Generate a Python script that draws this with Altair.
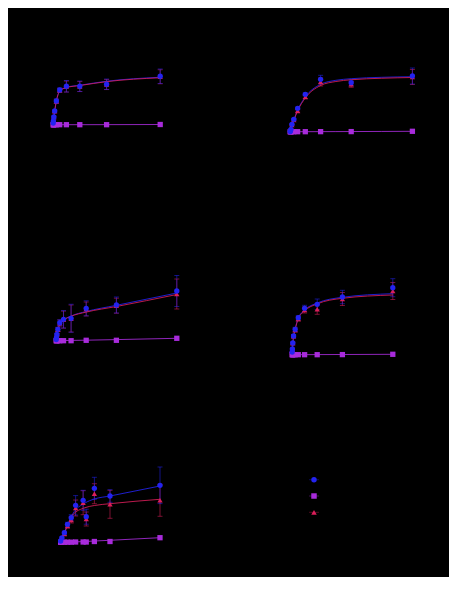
import altair as alt
import pandas as pd

SERIES = ["Total", "Non-specific", "Specific"]
COLORS = ["#2323F0", "#A82BDB", "#DC1E5A"]
SHAPES = ["circle", "square", "triangle-up"]

# concentrations (nM)
X = [0.0156, 0.031, 0.0625, 0.125, 0.25, 0.5, 1, 2, 4, 8]
FIT_X = [0, 0.0156, 0.031, 0.0625, 0.125, 0.25, 0.5, 1, 2, 4, 8]

# ---- panel A ----
A_TOTAL = [40, 80, 160, 280, 480, 700, 775, 775, 815, 975]
A_TOTAL_SD = [10, 10, 20, 20, 40, 40, 115, 105, 105, 145]
A_NS = [4, 4, 5, 6, 6, 6, 6, 6, 6, 10]
A_SPEC = [36, 76, 155, 274, 474, 694, 769, 769, 809, 965]
A_SPEC_SD = [10, 10, 20, 20, 40, 40, 110, 100, 100, 140]
A_FIT_TOTAL = [0, 40, 80, 160, 280, 480, 680, 755, 795, 875, 955]
A_FIT_SPEC = [0, 38, 76, 155, 274, 474, 674, 749, 789, 867, 945]
A_FIT_NS = [4, 4, 4, 4, 4, 5, 5, 6, 6, 7, 10]

# ---- panel B ----
B_FIT_X = [0, 0.0625, 0.125, 0.25, 0.5, 1, 2, 3, 4, 6, 8]
B_TOTAL = [10, 26, 54, 154, 254, 474, 754, 1054, 986, 1120]
B_TOTAL_SD = [6, 6, 10, 14, 20, 24, 30, 80, 60, 160]
B_NS = [5, 5, 5, 5, 6, 6, 6, 7, 8, 14]
B_SPEC = [5, 20, 48, 140, 240, 420, 700, 1000, 954, 1100]
B_SPEC_SD = [6, 6, 10, 14, 20, 24, 30, 80, 60, 150]
B_FIT_TOTAL = [0, 60, 120, 240, 440, 700, 954, 1034, 1066, 1094, 1106]
B_FIT_SPEC = [0, 56, 112, 230, 425, 680, 930, 1010, 1045, 1075, 1090]
B_FIT_NS = [5, 5, 5, 6, 6, 6, 7, 8, 9, 11, 14]

# ---- panel C ----
C_FIT_X = [0, 0.031, 0.0625, 0.125, 0.25, 0.5, 1, 2, 4, 8]
C_TOTAL = [30, 66, 134, 234, 366, 434, 454, 654, 720, 1000]
C_TOTAL_SD = [10, 10, 20, 40, 60, 174, 280, 150, 160, 310]
C_NS = [6, 6, 6, 6, 6, 6, 6, 14, 14, 54]
C_SPEC = [24, 60, 128, 228, 360, 428, 448, 640, 706, 940]
C_SPEC_SD = [10, 10, 20, 40, 60, 170, 270, 140, 150, 300]
C_FIT_TOTAL = [0, 60, 120, 220, 340, 420, 500, 590, 714, 960]
C_FIT_SPEC = [0, 58, 116, 214, 334, 414, 494, 578, 690, 930]
C_FIT_NS = [0, 1, 2, 4, 7, 9, 12, 16, 28, 54]

# ---- panel D ----
D_TOTAL = [60, 120, 240, 380, 514, 746, 934, 1014, 1160, 1346]
D_TOTAL_SD = [10, 10, 20, 30, 40, 40, 60, 106, 134, 180]
D_NS = [6, 6, 6, 6, 6, 6, 6, 6, 8, 14]
D_SPEC = [54, 114, 234, 374, 500, 720, 900, 914, 1120, 1280]
D_SPEC_SD = [10, 10, 20, 30, 40, 40, 60, 100, 130, 170]
D_FIT_TOTAL = [0, 60, 120, 230, 370, 520, 740, 900, 1040, 1154, 1226]
D_FIT_SPEC = [0, 58, 116, 224, 362, 510, 726, 884, 1022, 1134, 1200]
D_FIT_NS = [6, 6, 6, 6, 6, 6, 6, 7, 8, 10, 14]

# ---- panel E ----
E_X = [0.05, 0.15, 0.35, 0.6, 0.9, 1.25, 1.85, 2.1, 2.75, 4, 8]
E_TOTAL = [40, 100, 206, 374, 506, 754, 854, 526, 1094, 940, 1154]
E_TOTAL_SD = [10, 20, 30, 40, 60, 194, 200, 150, 220, 126, 366]
E_NS = [14, 14, 16, 16, 16, 20, 20, 20, 30, 30, 106]
E_SPEC = [30, 80, 180, 340, 460, 700, 806, 480, 986, 774, 854]
E_SPEC_SD = [10, 20, 30, 40, 60, 160, 240, 140, 200, 280, 320]
E_FIT_X = [0, 0.35, 0.6, 1.0, 2.0, 2.75, 4, 8]
E_FIT_TOTAL = [0, 220, 360, 574, 800, 880, 940, 1140]
E_FIT_SPEC = [0, 200, 340, 560, 706, 750, 786, 874]
E_FIT_NS = [10, 14, 16, 20, 30, 40, 54, 106]

# legend entries
LEGEND_LABELS = ["Total", "Non-specific", "Specific"]
LEGEND_ROW = [1, 2, 3]

X_TICKS = [0, 2, 4, 6, 8, 10]
Y_TICKS = [0, 500, 1000, 1500]

color_scale = alt.Scale(domain=SERIES, range=COLORS)
shape_scale = alt.Scale(domain=SERIES, range=SHAPES)
cnone = alt.Color("series:N", scale=color_scale, legend=None)
snone = alt.Shape("series:N", scale=shape_scale, legend=None)


def panel(title, x, total, total_sd, ns, spec, spec_sd, fit_x, fit_total,
          fit_ns, fit_spec, width, height, xmin, ymax):
    pts = pd.concat([
        pd.DataFrame({"x": x, "y": spec, "sd": spec_sd, "series": "Specific"}),
        pd.DataFrame({"x": x, "y": ns, "sd": [0] * len(x), "series": "Non-specific"}),
        pd.DataFrame({"x": x, "y": total, "sd": total_sd, "series": "Total"}),
    ], ignore_index=True)
    err = pts[pts["series"] != "Non-specific"]
    fit = pd.concat([
        pd.DataFrame({"x": fit_x, "y": fit_ns, "series": "Non-specific"}),
        pd.DataFrame({"x": fit_x, "y": fit_total, "series": "Total"}),
        pd.DataFrame({"x": fit_x, "y": fit_spec, "series": "Specific"}),
    ], ignore_index=True)

    xenc = alt.X("x:Q", scale=alt.Scale(domain=[xmin, 10], nice=False, zero=False),
                 axis=alt.Axis(values=X_TICKS, title="[Radioligand] (nM)"))
    yenc = alt.Y("y:Q", scale=alt.Scale(domain=[0, ymax], nice=False),
                 axis=alt.Axis(values=Y_TICKS, title="Bound (fmol/mg)",
                               minExtent=26, maxExtent=26))

    bars = alt.Chart(err).mark_errorbar(
        ticks={"size": 5, "opacity": 0.55}, rule={"opacity": 0.55}
    ).encode(x=xenc, y=yenc, yError="sd:Q", color=cnone)

    lines = []
    for s in ["Non-specific", "Total", "Specific"]:
        lines.append(
            alt.Chart(fit).transform_filter(alt.datum.series == s)
            .mark_line(interpolate="monotone", strokeWidth=1, opacity=0.85)
            .encode(x=xenc, y=yenc, color=cnone))

    points = alt.Chart(pts).mark_point(filled=True, size=28, opacity=1).encode(
        x=xenc, y=yenc, color=cnone, shape=snone)

    return alt.layer(bars, *lines, points).properties(
        width=width, height=height, title=title)


pA = panel("A", X, A_TOTAL, A_TOTAL_SD, A_NS, A_SPEC, A_SPEC_SD, FIT_X,
           A_FIT_TOTAL, A_FIT_NS, A_FIT_SPEC, 134, 74, 0, 1480)
pB = panel("B", X, B_TOTAL, B_TOTAL_SD, B_NS, B_SPEC, B_SPEC_SD, B_FIT_X,
           B_FIT_TOTAL, B_FIT_NS, B_FIT_SPEC, 153, 81, 0, 1620)
pC = panel("C", X, C_TOTAL, C_TOTAL_SD, C_NS, C_SPEC, C_SPEC_SD, C_FIT_X,
           C_FIT_TOTAL, C_FIT_NS, C_FIT_SPEC, 154, 82, -0.198, 1640)
pD = panel("D", X, D_TOTAL, D_TOTAL_SD, D_NS, D_SPEC, D_SPEC_SD, FIT_X,
           D_FIT_TOTAL, D_FIT_NS, D_FIT_SPEC, 126, 96, 0, 1920)
pE = panel("E", E_X, E_TOTAL, E_TOTAL_SD, E_NS, E_SPEC, E_SPEC_SD, E_FIT_X,
           E_FIT_TOTAL, E_FIT_NS, E_FIT_SPEC, 132, 80, -0.56, 1600)

# legend panel, drawn from its own small table
leg = pd.DataFrame({"series": LEGEND_LABELS, "row": LEGEND_ROW, "col": [0, 0, 0],
                    "lo": [-0.1, -0.1, -0.1], "hi": [0.1, 0.1, 0.1]})
lx = alt.X("col:Q", scale=alt.Scale(domain=[-0.2, 1], nice=False, zero=False), axis=None)
ly = alt.Y("row:Q", scale=alt.Scale(domain=[-0.025, 4.883], nice=False, zero=False,
                                    reverse=True), axis=None)
leg_line = alt.Chart(leg).mark_rule(strokeWidth=1, opacity=0.35).encode(
    x=alt.X("lo:Q", scale=alt.Scale(domain=[-0.2, 1], nice=False, zero=False), axis=None),
    x2="hi:Q", y=ly, color=cnone)
leg_pts = alt.Chart(leg).mark_point(filled=True, size=30, opacity=1).encode(
    x=lx, y=ly, color=cnone, shape=snone)
leg_txt = alt.Chart(leg).mark_text(align="left", baseline="middle", dx=9,
                                   fontSize=10, color="black",
                                   font="Liberation Sans").encode(
    x=lx, y=ly, text="series:N")
legend_panel = alt.layer(leg_line, leg_pts, leg_txt).properties(width=60, height=80)

row1 = alt.hconcat(pA, pB, spacing=62).resolve_scale(color="independent", shape="independent")
row2 = alt.hconcat(pC, pD, spacing=44).resolve_scale(color="independent", shape="independent")
row3 = alt.hconcat(pE, legend_panel, spacing=118).resolve_scale(color="independent", shape="independent")
lower = alt.vconcat(row2, row3, spacing=64).resolve_scale(color="independent", shape="independent")
chart = alt.vconcat(row1, lower, spacing=83).resolve_scale(
    color="independent", shape="independent"
).properties(
    padding={"left": 5, "top": 28, "right": 5, "bottom": 5},
    background="black",
).configure_view(strokeWidth=0).configure_axis(
    grid=False, domainColor="black", tickColor="black", labelColor="black",
    titleColor="black", labelFontSize=9, titleFontSize=10, tickSize=4,
    labelPadding=2, titlePadding=4, labelFont="Liberation Sans",
    titleFont="Liberation Sans", titleFontWeight="normal",
).configure_title(color="black", fontSize=11, font="Liberation Sans", offset=4)

chart.save("out.html", embed_options={"renderer": "svg", "actions": False})
